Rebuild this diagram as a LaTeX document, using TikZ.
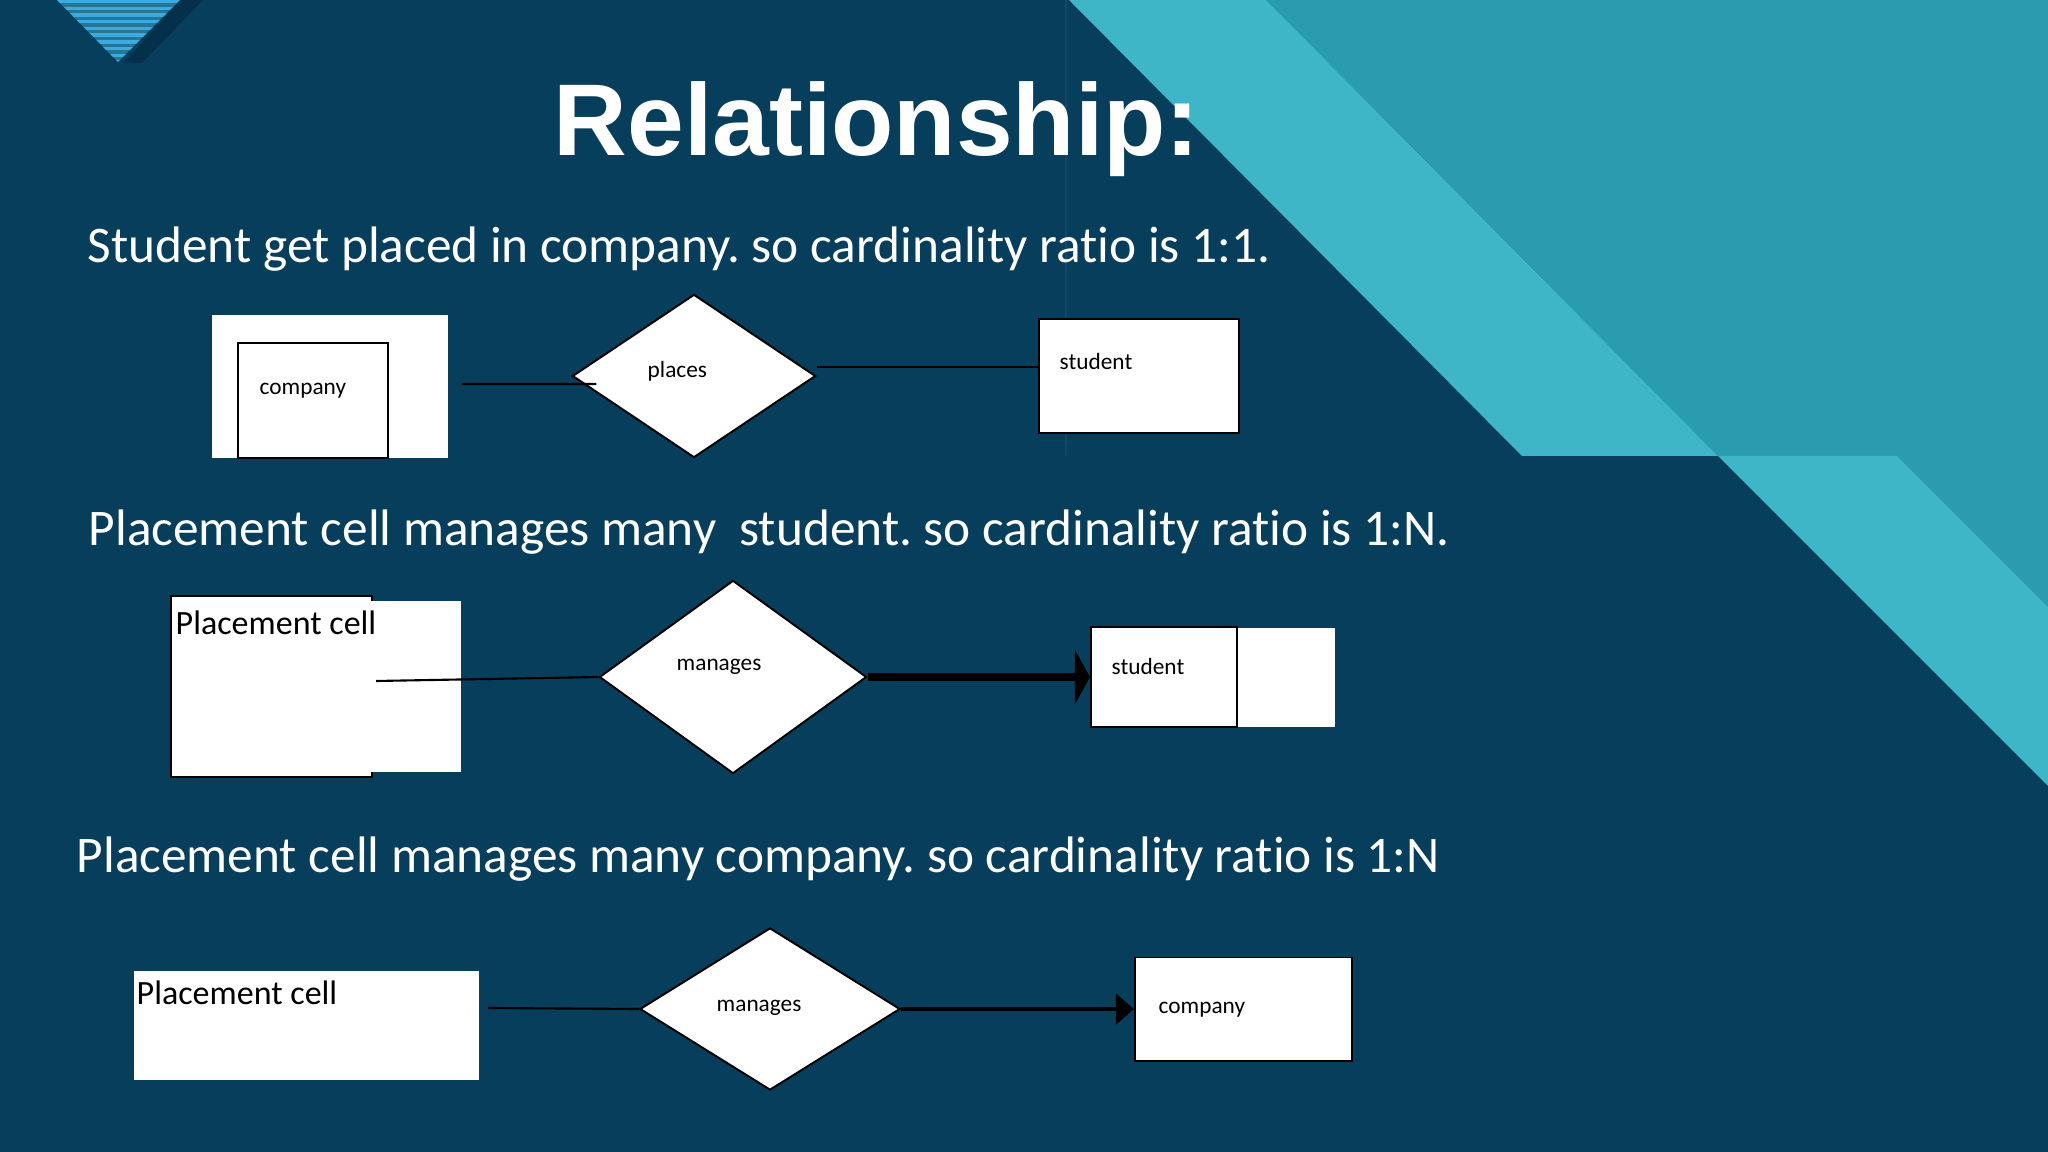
\documentclass[tikz,border=0pt]{standalone}
\usepackage{fontspec}
\usetikzlibrary{shapes.geometric,arrows.meta,calc}
\newfontfamily\calib[Ligatures=NoCommon]{Carlito}
\newfontfamily\arialf{Liberation Sans}
\definecolor{bgnavy}{RGB}{7,62,91}
\definecolor{teallight}{RGB}{63,182,200}
\definecolor{tealdark}{RGB}{41,157,175}
\definecolor{stripeblue}{RGB}{58,170,225}
\definecolor{stripegap}{RGB}{38,118,150}
\definecolor{shadownavy}{RGB}{4,48,76}
\definecolor{seamline}{RGB}{16,74,104}
\frenchspacing
\begin{document}
\begin{tikzpicture}[x=0.01cm,y=-0.01cm,
  ent/.style={rectangle,draw=black,fill=white,line width=0.55pt,inner sep=0},
  plainbox/.style={rectangle,fill=white,inner sep=0},
  rel/.style={diamond,draw=black,fill=white,line width=0.55pt,inner sep=0},
  lbl/.style={font=\calib\fontsize{6.63}{8}\selectfont,text=black,inner sep=0,anchor=base west},
  pclbl/.style={font=\calib\fontsize{9.67}{11}\selectfont,text=black,inner sep=0,anchor=base west},
  body/.style={font=\calib\fontsize{14.6}{17}\selectfont,text=white,inner sep=0,anchor=base west},
  conn/.style={draw=black,line width=0.6pt},
]
% background
\fill[bgnavy] (0,0) rectangle (2048,1152);
\useasboundingbox (0,0) rectangle (2048,1152);
\fill[tealdark] (1266,0) -- (2048,0) -- (2048,607) -- (1897,456) -- (1718,456) -- cycle;
\fill[teallight] (1069,0) -- (1266,0) -- (1718,456) -- (1522,456) -- cycle;
\fill[teallight] (1718,456) -- (1897,456) -- (2048,607) -- (2048,786) -- cycle;
\draw[seamline,line width=0.6pt] (1066,0) -- (1066,456);
% top-left striped triangle
\fill[shadownavy] (180,0) -- (203,0) -- (142,63) -- (124,63) -- cycle;
\begin{scope}
  \clip (57,0) -- (180,0) -- (118,62) -- cycle;
  \fill[stripegap] (40,0) rectangle (200,70);
  \foreach \k in {0,...,9} \fill[stripeblue] (40,\k*6.7) rectangle (200,\k*6.7+3.4);
\end{scope}
% title and sentences
\node[anchor=base west,font=\arialf\bfseries\fontsize{29}{34}\selectfont,text=white,inner sep=0] (title) at (553,156) {Relationship:};
\node[body] (s1) at (87,263) {Student get placed in company. so cardinality ratio is 1:1.};
\node[body] (s2) at (88,546) {Placement cell manages many~ student. so cardinality ratio is 1:N.};
\node[body] (s3) at (76,872) {Placement cell manages many company. so cardinality ratio is 1:N};
% diagram 1
\node[plainbox,minimum width=2.36cm,minimum height=1.43cm] (outer1) at (330,386.5) {};
\node[ent,minimum width=1.50cm,minimum height=1.15cm] (company1) at (313,400.5) {};
\node[lbl] (company1t) at (259,395) {company};
\node[rel,minimum width=2.43cm,minimum height=1.63cm] (d1) at (694,376) {};
\node[lbl] (d1t) at (647,378) {places};
\node[ent,minimum width=2.00cm,minimum height=1.14cm] (student1) at (1139,376) {};
\node[lbl] (student1t) at (1059,370) {student};
\draw[conn] ([xshift=0.13cm,yshift=0.025cm]outer1.east) -- ([xshift=0.25cm,yshift=-0.08cm]d1.west);
\draw[conn] ([yshift=0.09cm]d1.east) -- ([yshift=0.09cm]student1.west);
% diagram 2
\node[ent,minimum width=2.01cm,minimum height=1.81cm] (pcb2) at (271.5,686.5) {};
\node[plainbox,minimum width=2.88cm,minimum height=1.71cm] (pc2) at (317,686.5) {};
\node[pclbl] (pc2t) at (175,634) {Placement cell};
\node[rel,minimum width=2.67cm,minimum height=1.93cm] (d2) at (733,677) {};
\node[lbl] (d2t) at (676,670) {manages};
\node[plainbox,minimum width=0.98cm,minimum height=0.99cm] (ext2) at (1286,677.5) {};
\node[ent,minimum width=1.46cm,minimum height=1.00cm] (student2) at (1164,677) {};
\node[lbl] (student2t) at (1111,675) {student};
\draw[conn] ([xshift=0.03cm,yshift=0.055cm]pcb2.east) -- (d2.west);
\draw[line width=2pt,-{Triangle[length=0.15cm,width=0.54cm]}] (d2.east) -- (student2.west);
% diagram 3
\node[plainbox,minimum width=3.45cm,minimum height=1.09cm] (pc3) at (306.5,1025.5) {};
\node[pclbl] (pc3t) at (136,1004) {Placement cell};
\node[rel,minimum width=2.60cm,minimum height=1.62cm] (d3) at (770,1009) {};
\node[lbl] (d3t) at (716,1011) {manages};
\node[ent,minimum width=2.17cm,minimum height=1.03cm] (company3) at (1243.5,1009) {};
\node[lbl] (company3t) at (1158,1013) {company};
\draw[conn] ([xshift=0.08cm,yshift=0.175cm]pc3.east) -- (d3.west);
\draw[line width=1.3pt,-{Triangle[length=0.18cm,width=0.30cm]}] (d3.east) -- (company3.west);
\end{tikzpicture}
\end{document}
